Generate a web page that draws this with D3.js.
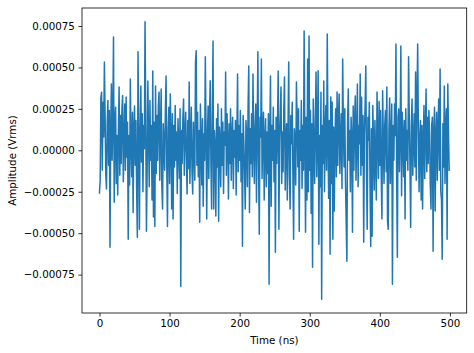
<!DOCTYPE html>
<html>
<head>
<meta charset="utf-8">
<script src="https://cdn.jsdelivr.net/npm/d3@7"></script>
<style>
	body { margin: 0; background: #fff; }
	svg { display: block; font-family: "DejaVu Sans", sans-serif; }
</style>
</head>
<body>
<script>
// Amplitude samples in microvolts, one per ns
const amplitudeUV = [
	-258, -180, 320, 350, -120, 290, 80, 533, 210, -150,
	-233, 160, 300, -90, 240, -585, 110, 400, -60, 180,
	684, -313, 150, 260, -200, 90, -270, 120, 382, -150,
	210, -80, 250, 330, -190, 60, 280, -120, 322, -40,
	170, -536, 90, -210, 430, 40, -160, 230, -375, 120,
	267, -90, 180, -230, -524, 594, 60, -477, 140, 388,
	-70, 220, -250, 150, 10, 775, 190, -489, -120, 418,
	90, -220, 300, -60, 150, -300, 479, -403, 170, -459,
	388, -140, 210, -60, 270, 352, -180, 100, 370, -220,
	-354, 160, 40, -120, 240, 449, -90, -459, 130, 260,
	-200, 340, 80, -354, 220, -415, 150, -100, 270, -60,
	110, -260, 190, 40, -170, 250, -822, 120, -80, 200,
	310, -150, 90, 230, -40, -264, 180, -110, 412, -200,
	60, 260, -120, -264, 170, 20, -180, 533, 600, -90,
	230, -160, 120, -434, 280, 40, -210, 190, -337, 100,
	-60, 564, 140, -415, 80, 267, -170, 210, 420, -80,
	-354, 200, 660, -354, 120, 30, -396, 190, -100, 280,
	-428, 140, 60, -220, 250, -90, 170, -260, 110, 30,
	473, -150, 220, 60, -294, 160, -80, 250, -180, 90,
	200, -230, 120, -40, 180, -270, 70, 461, -130, 150,
	-60, 240, -190, 100, -579, 210, 50, -140, -354, 180,
	90, -220, 260, 509, -375, 130, -80, 220, -160, 461,
	40, -200, 150, 280, -313, 120, 594, -90, -507, 200,
	80, 551, -170, 140, 230, -300, 60, 190, -220, 110,
	-140, 220, -808, 90, 449, -337, 150, -60, 260, -190,
	120, -615, 200, -80, 170, 479, -477, 60, 230, 382,
	-200, 110, -130, 250, 443, -240, 90, 160, -300, 140,
	533, -150, -354, 210, 40, 290, -170, -536, 130, 60,
	-210, 412, 180, -100, 250, -489, 120, -60, 300, -230,
	150, -120, 720, 80, -495, 200, -300, 551, -250, 690,
	-120, 240, -380, 160, -705, 310, 40, -200, 190, 473,
	-160, 120, 480, -567, 90, -220, 350, -898, 150, -80,
	418, -250, 100, 270, -120, 702, 60, -290, 180, -627,
	322, -200, 291, -536, 140, -366, 80, 250, -160, 352,
	-90, 200, 340, -140, 60, 220, -230, 551, 130, -100,
	250, -190, -434, -670, 170, 370, -60, 120, -250, 200,
	80, -495, 267, -120, 190, 328, -180, 60, 400, -220,
	150, 40, 461, -150, 320, -90, 210, -555, 100, 270,
	509, -130, -477, 200, 60, 290, -200, -580, 130, -518,
	270, 40, -240, 180, -60, -300, 352, 110, -170, 295,
	-90, 240, -150, -415, 360, 60, -200, 150, 240, -130,
	382, -428, -477, 120, 315, -200, 60, 280, -808, 150,
	-60, 280, 90, 642, -150, -645, 200, 250, -130, 100,
	630, -274, 230, 80, -160, 180, -415, 250, -60, 120,
	-120, 564, 200, -90, -465, 160, 310, -150, 60, 220,
	-100, 473, -180, 290, 642, 130, -250, 70, 180, -300,
	150, -354, 60, 270, -170, 120, 370, -130, 200, -80,
	240, 90, -210, -354, 150, 200, -609, 100, 260, -366,
	80, 230, -180, 140, 310, -120, 491, -250, -300, -657,
	160, -100, 388, -200, 150, 250, -536, 400, 90, -120
];

const xTicks = [0, 100, 200, 300, 400, 500];
const yTicks = [-0.00075, -0.0005, -0.00025, 0, 0.00025, 0.0005, 0.00075];
const xLabel = 'Time (ns)';
const yLabel = 'Amplitude (Vrms)';

const width = 474;
const height = 353;
const margin = { top: 8, right: 7.3, bottom: 40, left: 82 };
const fontSize = 10.3;

// samples -> volts
const data = amplitudeUV.map((v, i) => ({ t: i, v: v * 1e-6 }));

const svg = d3.select('body')
	.append('svg')
	.attr('width', width)
	.attr('height', height);

svg.append('rect')
	.attr('width', width)
	.attr('height', height)
	.attr('fill', '#fff');

// matplotlib style 5% padding on both axes
const pad = (ext) => {
	const r = ext[1] - ext[0];
	return [ext[0] - r * 0.05, ext[1] + r * 0.05];
};

const x = d3.scaleLinear()
	.domain(pad(d3.extent(data, d => d.t)))
	.range([margin.left, width - margin.right]);

const y = d3.scaleLinear()
	.domain(pad(d3.extent(data, d => d.v)))
	.range([height - margin.bottom, margin.top]);

// Signal
svg.append('path')
	.datum(data)
	.attr('fill', 'none')
	.attr('stroke', '#1f77b4')
	.attr('stroke-width', 1.5)
	.attr('stroke-linejoin', 'round')
	.attr('stroke-linecap', 'square')
	.attr('d', d3.line().x(d => x(d.t)).y(d => y(d.v)));

// Axes
const xAxis = svg.append('g')
	.attr('transform', `translate(0,${height - margin.bottom})`)
	.call(d3.axisBottom(x).tickValues(xTicks).tickSize(3.6).tickPadding(3.5).tickFormat(d3.format('d')));

const yAxis = svg.append('g')
	.attr('transform', `translate(${margin.left},0)`)
	.call(d3.axisLeft(y).tickValues(yTicks).tickSize(3.6).tickPadding(3.5).tickFormat(d3.format('.5f')));

[xAxis, yAxis].forEach(a => {
	a.select('.domain').remove();
	a.selectAll('line').attr('stroke', '#000').attr('stroke-width', 0.8);
	a.selectAll('text')
		.attr('fill', '#000')
		.style('font-size', `${fontSize}px`)
		.style('font-family', '"DejaVu Sans", sans-serif');
});

// Frame
svg.append('rect')
	.attr('x', margin.left)
	.attr('y', margin.top)
	.attr('width', width - margin.left - margin.right)
	.attr('height', height - margin.top - margin.bottom)
	.attr('fill', 'none')
	.attr('stroke', '#000')
	.attr('stroke-width', 0.8);

// Labels
svg.append('text')
	.attr('x', (margin.left + width - margin.right) / 2)
	.attr('y', 344)
	.attr('text-anchor', 'middle')
	.style('font-size', `${fontSize}px`)
	.text(xLabel);

svg.append('text')
	.attr('transform', `translate(16,${(margin.top + height - margin.bottom) / 2}) rotate(-90)`)
	.attr('text-anchor', 'middle')
	.style('font-size', `${fontSize}px`)
	.text(yLabel);
</script>
</body>
</html>
